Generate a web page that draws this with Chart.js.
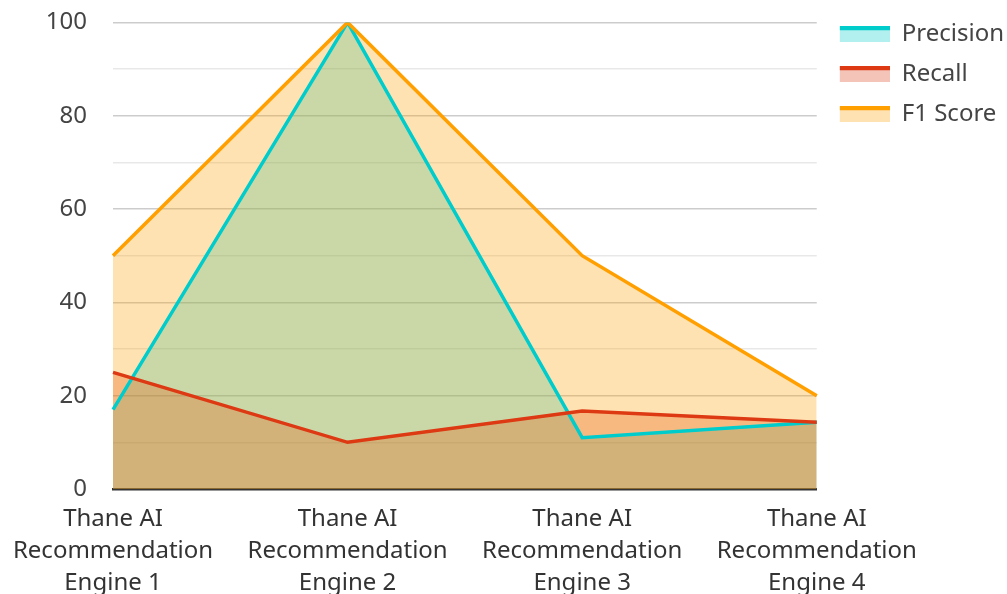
<!DOCTYPE html>
<html>
<head>
<meta charset="utf-8">
<script src="https://cdn.jsdelivr.net/npm/chart.js@4"></script>
<style>
  html, body { margin: 0; padding: 0; background: #fff; }
  #wrap { width: 1007px; height: 594px; }
</style>
</head>
<body>
<div id="wrap"><canvas id="chart"></canvas></div>
<script>
// data
const engines = [
    ['Thane AI', 'Recommendation', 'Engine 1'],
    ['Thane AI', 'Recommendation', 'Engine 2'],
    ['Thane AI', 'Recommendation', 'Engine 3'],
    ['Thane AI', 'Recommendation', 'Engine 4']
];
const precision = [17, 100, 11, 14.3];
const recall = [25, 10, 16.7, 14.3];
const f1Score = [50, 100, 50, 20];

const seriesNames = ['Precision', 'Recall', 'F1 Score'];
const lineColors = ['#00CCCC', '#DD3A14', '#FF9F00'];
const fillColors = ['rgba(0,204,204,0.3)', 'rgba(221,58,20,0.3)', 'rgba(255,159,0,0.3)'];

Chart.defaults.font.family = '"Noto Sans", "Open Sans", sans-serif';
Chart.defaults.color = '#444';

// legend swatch: thick line on top, light fill below (small blank margin on the left)
function swatch(i) {
    const c = document.createElement('canvas');
    c.width = 57; c.height = 16;
    const g = c.getContext('2d');
    g.fillStyle = fillColors[i];
    g.fillRect(7, 3, 50, 13);
    g.fillStyle = lineColors[i];
    g.fillRect(7, 0, 50, 4);
    return c;
}

const datasets = [precision, recall, f1Score].map((vals, i) => ({
    label: seriesNames[i],
    data: vals,
    borderColor: lineColors[i],
    backgroundColor: fillColors[i],
    borderWidth: 3.5,
    fill: 'origin',
    pointRadius: 0,
    tension: 0,
    order: 3 - i
}));

new Chart(document.getElementById('chart'), {
    type: 'line',
    data: { labels: engines, datasets: datasets },
    options: {
        responsive: true,
        maintainAspectRatio: false,
        animation: false,
        layout: { padding: { top: 0, right: -7, left: 0, bottom: 0 } },
        scales: {
            x: {
                offset: false,
                grid: { display: false, drawTicks: true, tickLength: 14, tickColor: 'rgba(0,0,0,0)' },
                border: { color: '#333', width: 2.5 },
                ticks: { font: { size: 24, lineHeight: 1.33 }, color: '#333', padding: 0, maxRotation: 0, autoSkip: false },
                afterFit: (s) => { s.height = 105; }
            },
            y: {
                min: 0,
                max: 100,
                grid: {
                    color: (ctx) => (ctx.tick && ctx.tick.value % 20 === 0) ? 'rgba(0,0,0,0.2)' : 'rgba(0,0,0,0.09)',
                    lineWidth: 1.5,
                    drawTicks: true,
                    tickLength: 18,
                    tickColor: 'rgba(0,0,0,0)'
                },
                border: { display: false },
                ticks: {
                    stepSize: 10,
                    font: { size: 24 },
                    color: '#444',
                    padding: 8,
                    callback: (v) => v % 20 === 0 ? v : ''
                },
                afterFit: (s) => { s.width = 113; }
            }
        },
        plugins: {
            filler: { drawTime: 'beforeDatasetsDraw' },
            legend: {
                position: 'right',
                align: 'start',
                title: { display: true, text: '', font: { size: 1 }, padding: { top: 5, bottom: 0 } },
                labels: {
                    usePointStyle: true,
                    pointStyleWidth: 57,
                    font: { size: 24 },
                    color: '#333',
                    padding: 16,
                    generateLabels: () => seriesNames.map((n, i) => ({
                        text: n,
                        pointStyle: swatch(i),
                        fillStyle: fillColors[i],
                        strokeStyle: lineColors[i],
                        lineWidth: 0,
                        datasetIndex: i
                    }))
                }
            },
            tooltip: { enabled: false }
        }
    }
});
</script>
</body>
</html>
